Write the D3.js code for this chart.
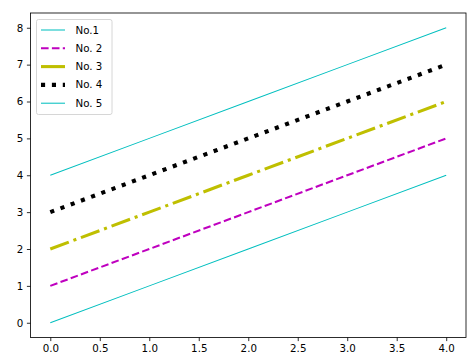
<!DOCTYPE html>
<html><head><meta charset="utf-8">
<script src="https://cdn.jsdelivr.net/npm/d3@7"></script>
<style>body{margin:0;background:#fff}svg{display:block}text{font-family:"DejaVu Sans",sans-serif}</style>
</head><body>
<script>
const xs = [0, 1, 2, 3, 4];
const series1 = [0, 1, 2, 3, 4];
const series2 = [1, 2, 3, 4, 5];
const series3 = [2, 3, 4, 5, 6];
const series4 = [3, 4, 5, 6, 7];
const series5 = [4, 5, 6, 7, 8];
const labels = ["No.1", "No. 2", "No. 3", "No. 4", "No. 5"];
const xTicks = [0, 0.5, 1, 1.5, 2, 2.5, 3, 3.5, 4];
const yTicks = [0, 1, 2, 3, 4, 5, 6, 7, 8];

const W = 474, H = 364;
const m = {l: 30.5, r: 466, t: 13, b: 337.5};
const s = 74/72;
const styles = [
  {color: "#00bfbf", w: 1*s, dash: null},
  {color: "#bf00bf", w: 2*s, dash: [3.7*2*s, 1.6*2*s]},
  {color: "#bfbf00", w: 3*s, dash: [6.4*3*s, 1.6*3*s, 1*3*s, 1.6*3*s]},
  {color: "#000000", w: 4*s, dash: [1*4*s, 1.65*4*s]},
  {color: "#00bfbf", w: 1*s, dash: null}
];
const allSeries = [series1, series2, series3, series4, series5];

const svg = d3.select("body").append("svg").attr("width", W).attr("height", H);
const x = d3.scaleLinear().domain([-0.2, 4.2]).range([m.l, m.r]);
const y = d3.scaleLinear().domain([-0.4, 8.4]).range([m.b, m.t]);

const line = d3.line().x((d, i) => x(xs[i])).y(d => y(d));
const plot = svg.append("g");
allSeries.forEach((ser, k) => {
  const st = styles[k];
  plot.append("path").datum(ser).attr("d", line)
    .attr("fill", "none").attr("stroke", st.color).attr("stroke-width", st.w)
    .attr("stroke-dasharray", st.dash ? st.dash.join(",") : null)
    .attr("stroke-linecap", "butt");
});

const fs = 10*s;
const xAxis = svg.append("g").attr("transform", `translate(0,${m.b})`)
  .call(d3.axisBottom(x).tickValues(xTicks).tickFormat(d3.format(".1f")).tickSize(3.5*s).tickPadding(3.5*s));
const yAxis = svg.append("g").attr("transform", `translate(${m.l},0)`)
  .call(d3.axisLeft(y).tickValues(yTicks).tickFormat(d3.format("d")).tickSize(3.5*s).tickPadding(3.5*s));
[xAxis, yAxis].forEach(a => {
  a.select(".domain").remove();
  a.selectAll("text").attr("font-size", fs).attr("fill", "#000").attr("font-family", "DejaVu Sans");
  a.selectAll("line").attr("stroke", "#000").attr("stroke-width", 0.8*s);
});
svg.append("rect").attr("x", m.l).attr("y", m.t).attr("width", m.r - m.l).attr("height", m.b - m.t)
  .attr("fill", "none").attr("stroke", "#000").attr("stroke-width", 0.8*s);

// legend
const lg = svg.append("g");
lg.append("rect").attr("x", 36.5).attr("y", 19.5).attr("width", 75.5).attr("height", 95)
  .attr("rx", 2).attr("fill", "#fff").attr("fill-opacity", 0.8).attr("stroke", "#d6d6d6").attr("stroke-width", 1);
labels.forEach((lab, k) => {
  const st = styles[k];
  const yy = 30 + k * 18.3;
  lg.append("line").attr("x1", 41).attr("x2", 65).attr("y1", yy).attr("y2", yy)
    .attr("stroke", st.color).attr("stroke-width", st.w)
    .attr("stroke-dasharray", (st.dash && k !== 2) ? st.dash.join(",") : null);
  lg.append("text").attr("x", 75.5).attr("y", yy).attr("dy", "0.35em")
    .attr("font-size", fs).text(lab);
});
</script>
</body></html>
